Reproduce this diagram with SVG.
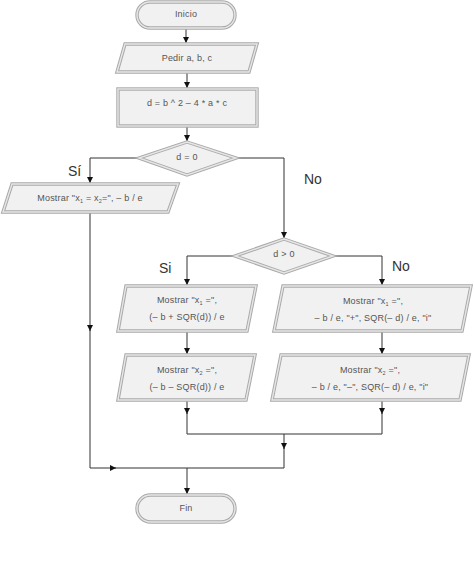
<svg xmlns="http://www.w3.org/2000/svg" width="474" height="580" viewBox="0 0 474 580">
<defs>
<style>
.o{fill:#f1f1f1;stroke:#a9a9a9;stroke-width:3.4;stroke-linejoin:miter}
.i{fill:none;stroke:#e6e6e6;stroke-width:1.4}
.t{font-family:"Liberation Sans",Arial,sans-serif;font-size:9px;fill:#555;text-anchor:middle;letter-spacing:0.2px}
.s{font-size:5.5px}
.lb{font-family:"Liberation Sans",Arial,sans-serif;font-size:14px;fill:#333}
.c{fill:none;stroke:#333;stroke-width:1}
.a{marker-end:url(#ah)}
</style>
<marker id="ah" markerUnits="userSpaceOnUse" markerWidth="7" markerHeight="7" refX="6" refY="3" orient="auto">
<path d="M0,0 L6,3 L0,6 z" fill="#111"/>
</marker>
</defs>
<rect width="474" height="580" fill="#fff"/>
<g id="connectors">
<path class="c a" d="M186 28 V43"/>
<path class="c a" d="M187 72 V88"/>
<path class="c a" d="M187 126 V141"/>
<path class="c a" d="M138 158 H90 V183"/>
<path class="c a" d="M237 158 H284 V238"/>
<path class="c a" d="M90 212 V331"/>
<path class="c a" d="M90 329 V468 H116"/>
<path class="c" d="M114 468 H284"/>
<path class="c a" d="M234 256 H187 V285"/>
<path class="c a" d="M334 256 H382 V285"/>
<path class="c a" d="M187 331 V354"/>
<path class="c a" d="M382 331 V354"/>
<path class="c a" d="M187 400 V414"/>
<path class="c a" d="M382 400 V414"/>
<path class="c" d="M187 412 V434 H382 V412"/>
<path class="c a" d="M284 434 V449"/>
<path class="c" d="M284 447 V468"/>
<path class="c a" d="M187 468 V494"/>
</g>
<g id="inicio">
<rect class="o" x="137" y="2" width="98" height="26" rx="13"/>
<rect class="i" x="137" y="2" width="98" height="26" rx="13"/>
<text class="t" x="186" y="17">Inicio</text>
</g>
<g id="pedir">
<polygon class="o" points="125,44 257,44 249,72 117,72"/>
<polygon class="i" points="125,44 257,44 249,72 117,72"/>
<text class="t" x="187" y="61">Pedir a, b, c</text>
</g>
<g id="calc">
<rect class="o" x="118" y="89" width="139" height="37"/>
<rect class="i" x="118" y="89" width="139" height="37"/>
<text class="t" x="187" y="106">d = b ^ 2 – 4 * a * c</text>
</g>
<g id="dec1">
<polygon class="o" points="187,142 236,158 187,175 139,158"/>
<polygon class="i" points="187,142 236,158 187,175 139,158"/>
<text class="t" x="187" y="160">d = 0</text>
</g>
<text class="lb" x="68" y="176">Sí</text>
<text class="lb" x="304" y="184">No</text>
<g id="out0">
<polygon class="o" points="12,184 178,184 168,212 3,212"/>
<polygon class="i" points="12,184 178,184 168,212 3,212"/>
<text class="t" x="90" y="201">Mostrar "x<tspan class="s" dy="2">1</tspan><tspan dy="-2"> = x</tspan><tspan class="s" dy="2">2</tspan><tspan dy="-2">=", – b / e</tspan></text>
</g>
<g id="dec2">
<polygon class="o" points="284,239 333,256 284,273 235,256"/>
<polygon class="i" points="284,239 333,256 284,273 235,256"/>
<text class="t" x="284" y="257">d &gt; 0</text>
</g>
<text class="lb" x="159" y="273">Si</text>
<text class="lb" x="392" y="271">No</text>
<g id="outA1">
<polygon class="o" points="126,286 256,286 247,331 118,331"/>
<polygon class="i" points="126,286 256,286 247,331 118,331"/>
<text class="t" x="187" y="303">Mostrar "x<tspan class="s" dy="2">1</tspan><tspan dy="-2"> =",</tspan></text>
<text class="t" x="187" y="320">(– b + SQR(d)) / e</text>
</g>
<g id="outB1">
<polygon class="o" points="283,286 471,286 462,331 274,331"/>
<polygon class="i" points="283,286 471,286 462,331 274,331"/>
<text class="t" x="373" y="304">Mostrar "x<tspan class="s" dy="2">1</tspan><tspan dy="-2"> =",</tspan></text>
<text class="t" x="373" y="321">– b / e, "+", SQR(– d) / e, "i"</text>
</g>
<g id="outA2">
<polygon class="o" points="126,355 255,355 246,400 118,400"/>
<polygon class="i" points="126,355 255,355 246,400 118,400"/>
<text class="t" x="187" y="373">Mostrar "x<tspan class="s" dy="2">2</tspan><tspan dy="-2"> =",</tspan></text>
<text class="t" x="187" y="390">(– b – SQR(d)) / e</text>
</g>
<g id="outB2">
<polygon class="o" points="281,355 469,355 460,400 272,400"/>
<polygon class="i" points="281,355 469,355 460,400 272,400"/>
<text class="t" x="370" y="373">Mostrar "x<tspan class="s" dy="2">2</tspan><tspan dy="-2"> =",</tspan></text>
<text class="t" x="370" y="390">– b / e, "–", SQR(– d) / e, "i"</text>
</g>
<g id="fin">
<rect class="o" x="137" y="495" width="98" height="27" rx="13.5"/>
<rect class="i" x="137" y="495" width="98" height="27" rx="13.5"/>
<text class="t" x="186" y="511">Fin</text>
</g>
</svg>
